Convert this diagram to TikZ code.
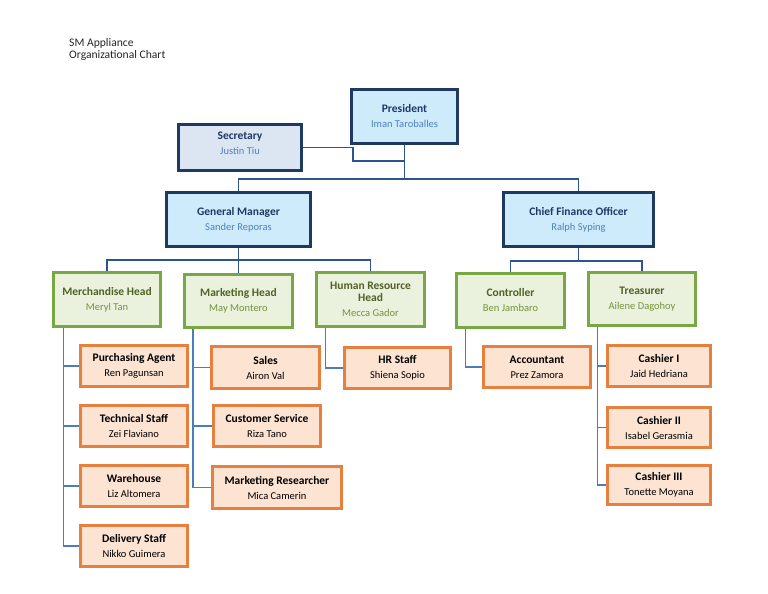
\documentclass[tikz,border=0pt]{standalone}
\usepackage{fontspec}
\setmainfont{Carlito}
\usetikzlibrary{backgrounds}
\definecolor{navy}{HTML}{1F3A60}
\definecolor{bluefill}{HTML}{CDEBFB}
\definecolor{secfill}{HTML}{DCE6F2}
\definecolor{bluename}{HTML}{4F81BD}
\definecolor{bluetitle}{HTML}{1F3864}
\definecolor{greenline}{HTML}{77A844}
\definecolor{greenfill}{HTML}{EAF1DD}
\definecolor{greentitle}{HTML}{4F6228}
\definecolor{greenname}{HTML}{76923C}
\definecolor{orangeline}{HTML}{E5803E}
\definecolor{orangefill}{HTML}{FCE3D2}
\definecolor{topline}{HTML}{2F5290}
\definecolor{subline}{HTML}{4A7EBB}
\newcommand\TF{\fontsize{11.5}{13}\selectfont\bfseries}
\newcommand\NF{\fontsize{10.5}{12.5}\selectfont}
\newcommand\bluetxt[2]{{\color{bluetitle}\TF #1}\\[3pt]{\color{bluename}\NF #2}}
\newcommand\greentxt[2]{{\color{greentitle}\TF #1}\\[3pt]{\color{greenname}\NF #2}}
\newcommand\orangetxt[2]{{\color{black}\TF #1}\\[3pt]{\color{black}\NF #2}}
\tikzset{
  bluebox/.style={draw=navy, line width=3pt, fill=bluefill, align=center, inner sep=0pt},
  secbox/.style={bluebox, fill=secfill},
  greenbox/.style={draw=greenline, line width=3pt, fill=greenfill, align=center, inner sep=0pt},
  orangebox/.style={draw=orangeline, line width=3pt, fill=orangefill, align=center, inner sep=0pt},
  topconn/.style={draw=topline, line width=1.8pt},
  subconn/.style={draw=subline, line width=1.5pt},
}
\begin{document}
\begin{tikzpicture}[x=1pt,y=-1pt]
\useasboundingbox (0,0) rectangle (768,594);
\node[anchor=north west, align=left, font=\fontsize{11.6}{12.5}\selectfont, text=black!85, inner sep=0pt] (title) at (69,38) {SM Appliance\\Organizational Chart};

% level 0/1
\node[bluebox, minimum width=106pt, minimum height=54pt] (pres) at (404.5,116.5) {\bluetxt{President}{Iman Taroballes}};
\node[secbox, minimum width=123pt, minimum height=46pt] (sec) at (240,147.5) {};
\node[align=center, inner sep=0pt] (sectext) at (240,143) {\bluetxt{Secretary}{Justin Tiu}};
\node[bluebox, minimum width=144pt, minimum height=54pt] (gm) at (238.5,219.5) {\bluetxt{General Manager}{Sander Reporas}};
\node[bluebox, minimum width=150pt, minimum height=54pt] (cfo) at (578.5,219.5) {\bluetxt{Chief Finance Officer}{Ralph Syping}};

% level 2
\node[greenbox, minimum width=107pt, minimum height=54pt] (merch) at (107,299.5) {\greentxt{Merchandise Head}{Meryl Tan}};
\node[greenbox, minimum width=108pt, minimum height=53pt] (mkt) at (238.5,301) {\greentxt{Marketing Head}{May Montero}};
\node[greenbox, minimum width=108pt, minimum height=54pt] (hrh) at (370.5,299.5) {{\color{greentitle}\TF Human Resource}\\{\color{greentitle}\TF Head}\\[3pt]{\color{greenname}\NF Mecca Gador}};
\node[greenbox, minimum width=108pt, minimum height=54pt] (ctrl) at (510.5,300.5) {\greentxt{Controller}{Ben Jambaro}};
\node[greenbox, minimum width=107pt, minimum height=53pt] (treas) at (642,299) {\greentxt{Treasurer}{Ailene Dagohoy}};

% level 3
\node[orangebox, minimum width=107pt, minimum height=41pt] (purch) at (134,366) {\orangetxt{Purchasing Agent}{Ren Pagunsan}};
\node[orangebox, minimum width=107pt, minimum height=41pt] (tech) at (134,426) {\orangetxt{Technical Staff}{Zei Flaviano}};
\node[orangebox, minimum width=107pt, minimum height=41pt] (ware) at (134,486) {\orangetxt{Warehouse}{Liz Altomera}};
\node[orangebox, minimum width=107pt, minimum height=41pt] (deliv) at (134,546) {\orangetxt{Delivery Staff}{Nikko Guimera}};
\node[orangebox, minimum width=108pt, minimum height=42pt] (sales) at (265.5,367.5) {\orangetxt{Sales}{Airon Val}};
\node[orangebox, minimum width=107pt, minimum height=41pt] (cust) at (267,426) {\orangetxt{Customer Service}{Riza Tano}};
\node[orangebox, minimum width=129pt, minimum height=42pt] (mres) at (277,487.5) {\orangetxt{Marketing Researcher}{Mica Camerin}};
\node[orangebox, minimum width=106pt, minimum height=41pt] (hrs) at (397.5,368) {\orangetxt{HR Staff}{Shiena Sopio}};
\node[orangebox, minimum width=107pt, minimum height=41pt] (acct) at (537,367) {\orangetxt{Accountant}{Prez Zamora}};
\node[orangebox, minimum width=103pt, minimum height=41pt] (cash1) at (659,366) {\orangetxt{Cashier I}{Jaid Hedriana}};
\node[orangebox, minimum width=103pt, minimum height=40pt] (cash2) at (659,427.5) {\orangetxt{Cashier II}{Isabel Gerasmia}};
\node[orangebox, minimum width=103pt, minimum height=39pt] (cash3) at (659,485) {\orangetxt{Cashier III}{Tonette Moyana}};

% junction coordinates
\coordinate (j1) at (404.5,179);
\coordinate (s1) at (353,161);
\coordinate (j2) at (238.5,260);
\coordinate (j3) at (578.5,261);
\coordinate (mv) at ([xshift=11.5pt]merch.south west);
\coordinate (kv) at ([xshift=10pt]mkt.south west);
\coordinate (hv) at ([xshift=10.5pt]hrh.south west);
\coordinate (cv) at ([xshift=10.5pt]ctrl.south west);
\coordinate (tv) at ([xshift=10.5pt]treas.south west);

\begin{scope}[on background layer]
% top connectors
\path[topconn] (pres.south) -- (j1);
\path[topconn] (sec.east) -| (s1) -- (pres.south |- s1);
\path[topconn] (gm.north) -- (gm.north |- j1) -- (cfo.north |- j1) -- (cfo.north);
\path[topconn] (gm.south) -- (mkt.north);
\path[topconn] (merch.north) -- (merch.north |- j2) -- (hrh.north |- j2) -- (hrh.north);
\path[topconn] (cfo.south) -- (j3);
\path[topconn] (ctrl.north) -- (ctrl.north |- j3) -- (treas.north |- j3) -- (treas.north);

% sub connectors
\path[subconn] (mv) |- (deliv.west);
\path[subconn] (purch.west) -- (purch.west -| mv);
\path[subconn] (tech.west) -- (tech.west -| mv);
\path[subconn] (ware.west) -- (ware.west -| mv);
\path[subconn] (kv) |- (mres.west);
\path[subconn] (sales.west) -- (sales.west -| kv);
\path[subconn] (cust.west) -- (cust.west -| kv);
\path[subconn] (hv) |- (hrs.west);
\path[subconn] (cv) |- (acct.west);
\path[subconn] (tv) |- (cash3.west);
\path[subconn] (cash1.west) -- (cash1.west -| tv);
\path[subconn] (cash2.west) -- (cash2.west -| tv);
\end{scope}
\end{tikzpicture}
\end{document}
